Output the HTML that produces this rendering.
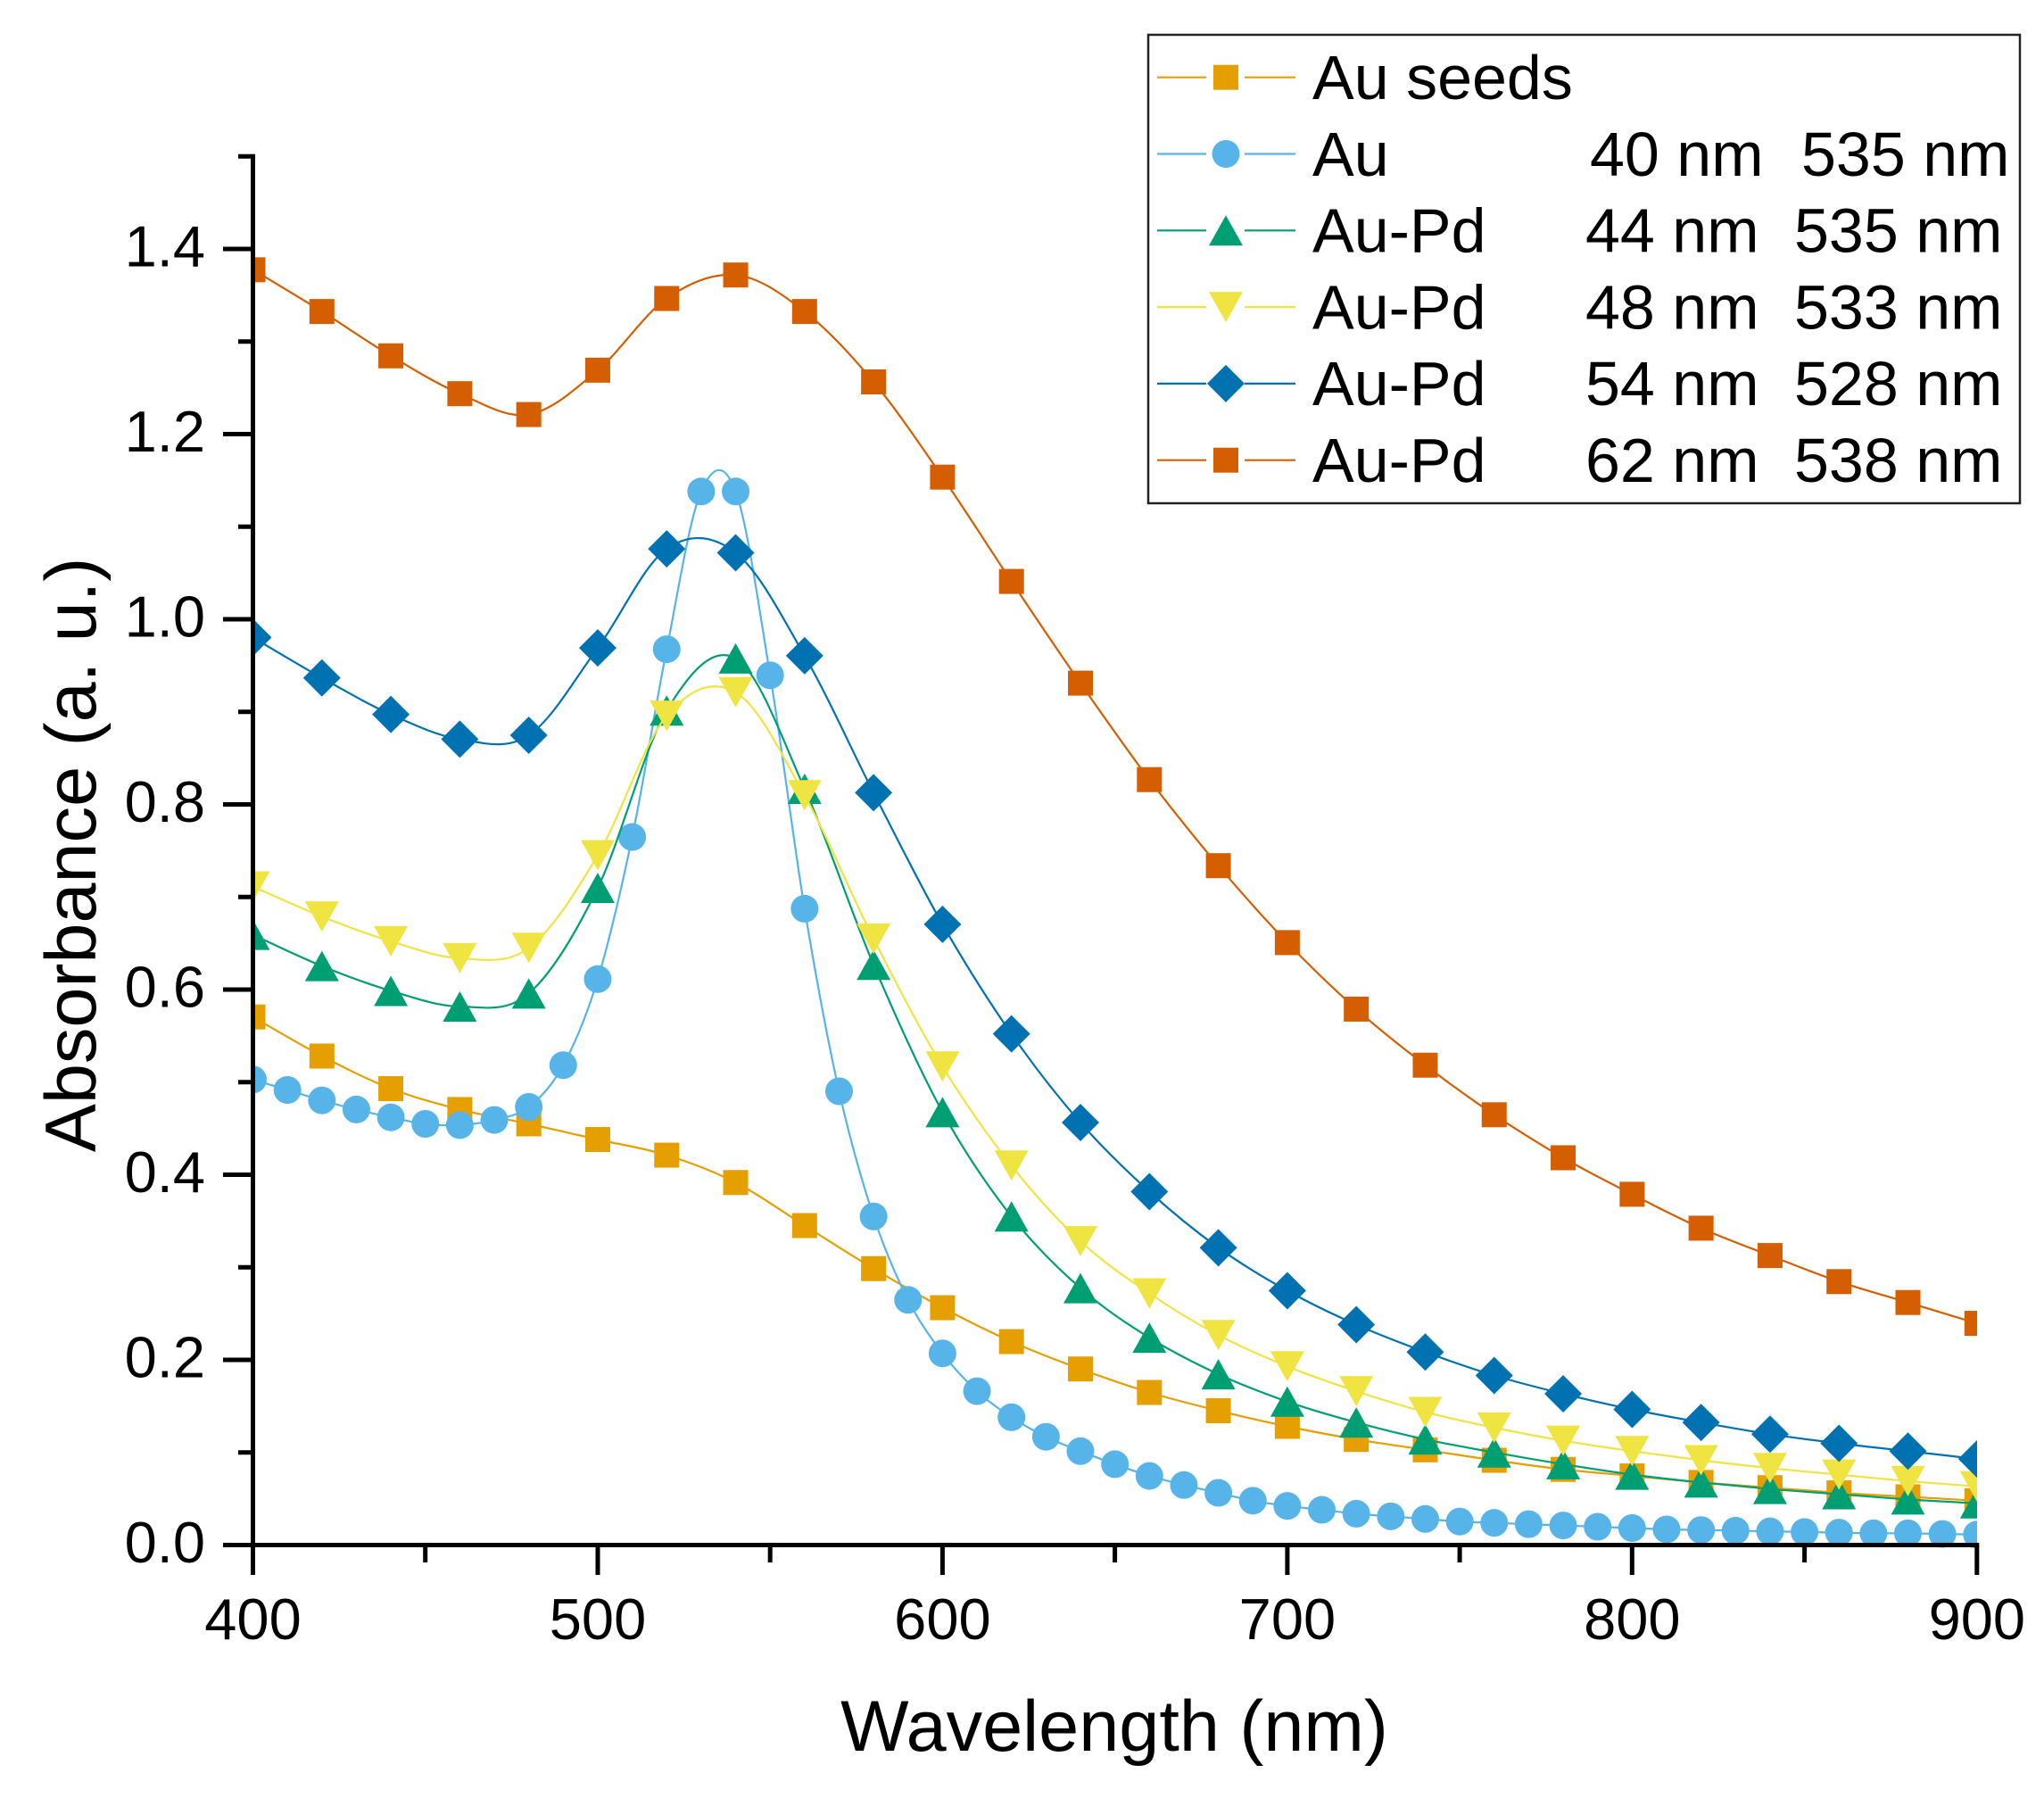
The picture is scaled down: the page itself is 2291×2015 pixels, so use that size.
<!DOCTYPE html>
<html>
<head>
<meta charset="utf-8">
<style>
html,body{margin:0;padding:0;background:#fff;}
svg{display:block;}
text{font-family:"Liberation Sans",Arial,sans-serif;fill:#000;}
</style>
</head>
<body>
<svg id="chart" xmlns="http://www.w3.org/2000/svg" width="2291" height="2015" viewBox="0 0 2291 2015">
<rect x="0" y="0" width="2291" height="2015" fill="#fff"/>
<defs>
<clipPath id="plotclip"><rect x="283.5" y="0" width="1932.5" height="1760"/></clipPath>
</defs>
<g id="series" clip-path="url(#plotclip)"></g>

<!-- axes -->
<g stroke="#000" stroke-width="5" fill="none">
<line x1="283.5" y1="172.75" x2="283.5" y2="1734"/>
<line x1="281" y1="1731.5" x2="2218.3" y2="1731.5"/>
<!-- y major ticks -->
<line x1="250" y1="1731.5" x2="283.5" y2="1731.5"/>
<line x1="250" y1="1524" x2="283.5" y2="1524"/>
<line x1="250" y1="1316.5" x2="283.5" y2="1316.5"/>
<line x1="250" y1="1109" x2="283.5" y2="1109"/>
<line x1="250" y1="901.5" x2="283.5" y2="901.5"/>
<line x1="250" y1="694" x2="283.5" y2="694"/>
<line x1="250" y1="486.5" x2="283.5" y2="486.5"/>
<line x1="250" y1="279" x2="283.5" y2="279"/>
<!-- y minor ticks -->
<line x1="267" y1="1627.75" x2="283.5" y2="1627.75"/>
<line x1="267" y1="1420.25" x2="283.5" y2="1420.25"/>
<line x1="267" y1="1212.75" x2="283.5" y2="1212.75"/>
<line x1="267" y1="1005.25" x2="283.5" y2="1005.25"/>
<line x1="267" y1="797.75" x2="283.5" y2="797.75"/>
<line x1="267" y1="590.25" x2="283.5" y2="590.25"/>
<line x1="267" y1="382.75" x2="283.5" y2="382.75"/>
<line x1="267" y1="175.25" x2="283.5" y2="175.25"/>
<!-- x major ticks -->
<line x1="283.5" y1="1731.5" x2="283.5" y2="1765"/>
<line x1="670" y1="1731.5" x2="670" y2="1765"/>
<line x1="1056.4" y1="1731.5" x2="1056.4" y2="1765"/>
<line x1="1442.9" y1="1731.5" x2="1442.9" y2="1765"/>
<line x1="1829.3" y1="1731.5" x2="1829.3" y2="1765"/>
<line x1="2215.8" y1="1731.5" x2="2215.8" y2="1765"/>
<!-- x minor ticks -->
<line x1="476.7" y1="1731.5" x2="476.7" y2="1751"/>
<line x1="863.2" y1="1731.5" x2="863.2" y2="1751"/>
<line x1="1249.6" y1="1731.5" x2="1249.6" y2="1751"/>
<line x1="1636.1" y1="1731.5" x2="1636.1" y2="1751"/>
<line x1="2022.6" y1="1731.5" x2="2022.6" y2="1751"/>
</g>

<!-- y tick labels -->
<g font-size="65" text-anchor="end">
<text x="230" y="1751">0.0</text>
<text x="230" y="1543.5">0.2</text>
<text x="230" y="1336">0.4</text>
<text x="230" y="1128.5">0.6</text>
<text x="230" y="921">0.8</text>
<text x="230" y="713.5">1.0</text>
<text x="230" y="506">1.2</text>
<text x="230" y="298.5">1.4</text>
</g>
<!-- x tick labels -->
<g font-size="65" text-anchor="middle">
<text x="283.5" y="1837">400</text>
<text x="670" y="1837">500</text>
<text x="1056.4" y="1837">600</text>
<text x="1442.9" y="1837">700</text>
<text x="1829.3" y="1837">800</text>
<text x="2215.8" y="1837">900</text>
</g>

<!-- axis titles -->
<text x="1249" y="1962" font-size="81" text-anchor="middle">Wavelength (nm)</text>
<text x="0" y="0" transform="translate(107,958) rotate(-90)" font-size="81" text-anchor="middle">Absorbance (a. u.)</text>

<!-- legend -->
<rect x="1287" y="39" width="977" height="525" fill="#fff" stroke="#222" stroke-width="2.5"/>
<g stroke-width="2.2">
<line x1="1297" y1="86.7" x2="1352" y2="86.7" stroke="#E69F00"/>
<line x1="1395" y1="86.7" x2="1452" y2="86.7" stroke="#E69F00"/>
<line x1="1297" y1="172.5" x2="1352" y2="172.5" stroke="#56B4E9"/>
<line x1="1395" y1="172.5" x2="1452" y2="172.5" stroke="#56B4E9"/>
<line x1="1297" y1="258.3" x2="1352" y2="258.3" stroke="#009E73"/>
<line x1="1395" y1="258.3" x2="1452" y2="258.3" stroke="#009E73"/>
<line x1="1297" y1="344.1" x2="1352" y2="344.1" stroke="#F0E442"/>
<line x1="1395" y1="344.1" x2="1452" y2="344.1" stroke="#F0E442"/>
<line x1="1297" y1="429.9" x2="1352" y2="429.9" stroke="#0072B2"/>
<line x1="1395" y1="429.9" x2="1452" y2="429.9" stroke="#0072B2"/>
<line x1="1297" y1="515.7" x2="1352" y2="515.7" stroke="#D55E00"/>
<line x1="1395" y1="515.7" x2="1452" y2="515.7" stroke="#D55E00"/>
</g>
<rect x="1360" y="72.7" width="28" height="28" fill="#E69F00"/>
<circle cx="1374" cy="172.5" r="15.5" fill="#56B4E9"/>
<polygon points="1374,241.3 1355,275.3 1393,275.3" fill="#009E73"/>
<polygon points="1355,327.1 1393,327.1 1374,361.1" fill="#F0E442"/>
<polygon points="1374,408.9 1395,429.9 1374,450.9 1353,429.9" fill="#0072B2"/>
<rect x="1360" y="501.7" width="28" height="28" fill="#D55E00"/>
<g font-size="70">
<text x="1471" y="111">Au seeds</text>
<text x="1471" y="196.8">Au</text>
<text x="1782" y="196.8">40 nm</text>
<text x="2019" y="196.8">535 nm</text>
<text x="1471" y="282.6">Au-Pd</text>
<text x="1777" y="282.6">44 nm</text>
<text x="2011" y="282.6">535 nm</text>
<text x="1471" y="368.4">Au-Pd</text>
<text x="1777" y="368.4">48 nm</text>
<text x="2011" y="368.4">533 nm</text>
<text x="1471" y="454.2">Au-Pd</text>
<text x="1777" y="454.2">54 nm</text>
<text x="2011" y="454.2">528 nm</text>
<text x="1471" y="540">Au-Pd</text>
<text x="1777" y="540">62 nm</text>
<text x="2011" y="540">538 nm</text>
</g>
</svg>
<script>
(function(){
var NS='http://www.w3.org/2000/svg';
function X(nm){return 283.5+(nm-400)*3.8646;}
function Y(yd){return 1731.5-(1185-yd)*1.4613;}
function cr(p){
  var d='M'+p[0][0].toFixed(1)+','+p[0][1].toFixed(1);
  for(var i=0;i<p.length-1;i++){
    var p0=p[Math.max(i-1,0)],p1=p[i],p2=p[i+1],p3=p[Math.min(i+2,p.length-1)];
    var c1x=p1[0]+(p2[0]-p0[0])/6,c1y=p1[1]+(p2[1]-p0[1])/6;
    var c2x=p2[0]-(p3[0]-p1[0])/6,c2y=p2[1]-(p3[1]-p1[1])/6;
    d+='C'+c1x.toFixed(1)+','+c1y.toFixed(1)+' '+c2x.toFixed(1)+','+c2y.toFixed(1)+' '+p2[0].toFixed(1)+','+p2[1].toFixed(1);
  }
  return d;
}
var g=document.getElementById('series');
function el(name,attrs){var e=document.createElementNS(NS,name);for(var k in attrs)e.setAttribute(k,attrs[k]);g.appendChild(e);return e;}
function marker(t,x,y,c){
  if(t==='sq'){el('rect',{x:x-14,y:y-14,width:28,height:28,fill:c});}
  else if(t==='ci'){el('circle',{cx:x,cy:y,r:15.5,fill:c});}
  else if(t==='up'){el('polygon',{points:x+','+(y-17)+' '+(x-19)+','+(y+17)+' '+(x+19)+','+(y+17),fill:c});}
  else if(t==='dn'){el('polygon',{points:(x-19)+','+(y-17)+' '+(x+19)+','+(y-17)+' '+x+','+(y+17),fill:c});}
  else if(t==='di'){el('polygon',{points:x+','+(y-21)+' '+(x+21)+','+y+' '+x+','+(y+21)+' '+(x-21)+','+y,fill:c});}
}
var series=[
 {c:'#E69F00',m:'sq',step:20,d:[780,810,835,851,862,874,886,907,940,973,1003,1029,1050,1068,1082,1094,1104,1112,1120,1127,1132,1137,1141,1145,1148,1151]},
 {c:'#56B4E9',m:'ci',step:10,d:[828,836,844,851,857,862,863,859,849,817,751,642,498,377,377,518,697,837,933,997,1038,1067,1087,1102,1113,1123,1132,1139,1145,1151,1155,1158,1161,1163,1165,1167,1168,1169,1170,1171,1172,1173,1173.5,1174,1174.5,1175,1175.5,1176,1176,1176.5,1177]},
 {c:'#009E73',m:'up',step:20,d:[717,741,760,772,762,681,545,505,605,740,853,933,988,1026,1054,1075,1091,1104,1114,1123,1131,1137,1142,1146,1150,1153]},
 {c:'#F0E442',m:'dn',step:20,d:[680,703,722,735,727,656,549,531,610,720,818,894,952,992,1024,1048,1067,1083,1095,1105,1113,1120,1126,1131,1136,1140]},
 {c:'#0072B2',m:'di',step:20,d:[489,520,548,567,564,497,421,424,503,608,709,793,861,914,957,990,1016,1037,1055,1069,1081,1091,1100,1107,1113,1119]},
 {c:'#D55E00',m:'sq',step:20,d:[207,239,273,302,318,284,229,211,239,293,366,446,524,598,664,723,774,817,855,888,916,942,963,983,999,1015]}
];
series.forEach(function(s){
  var pts=s.d.map(function(v,i){return [X(400+i*s.step),Y(v)];});
  el('path',{d:cr(pts),fill:'none',stroke:s.c,'stroke-width':2.2});
  pts.forEach(function(p){marker(s.m,p[0],p[1],s.c);});
});
})();
</script>
</body>
</html>
